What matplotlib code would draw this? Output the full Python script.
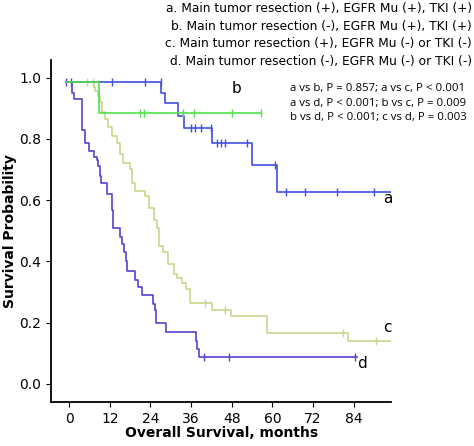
import matplotlib
matplotlib.use('Agg')
import matplotlib.pyplot as plt

# kaplan-meier curves: (time, survival) step points
a_t = [-1, 27.2, 28.4, 32, 34, 42.3, 54, 61.3, 95]
a_s = [0.985, 0.95, 0.917, 0.874, 0.835, 0.787, 0.714, 0.625, 0.625]
a_cens_t = [0.5, 12.6, 22.5, 27, 36, 37, 39, 42, 43.5, 44.7, 46, 52.6, 60.7, 64, 69.5, 79, 90]

b_t = [-1, 8.9, 56.7]
b_s = [0.985, 0.886, 0.886]
b_cens_t = [21, 22, 33.7, 36.7, 48, 56.7]

c_t = [-1, 7.2, 7.7, 8.4, 9.0, 9.7, 10.7, 11.6, 12.6, 14.1, 15.1, 16, 18, 18.5, 19.5,
       22.5, 23.7, 24.9, 25.9, 26.6, 27.8, 29.3, 31, 31.9,
       33.4, 34.4, 35.7, 42.2, 47.8, 58.5, 82.2, 95]
c_s = [0.985, 0.97, 0.955, 0.94, 0.92, 0.888, 0.866, 0.84, 0.81, 0.785, 0.75, 0.72, 0.70,
       0.655, 0.63, 0.615, 0.573, 0.535, 0.51, 0.45, 0.43, 0.39,
       0.36, 0.345, 0.33, 0.31, 0.265, 0.241, 0.22, 0.167, 0.141, 0.141]
c_cens_t = [5.2, 7, 40, 45.9, 80.9, 90.5]

d_t = [-1, 0.8, 1.5, 3.7, 4.7, 6.0, 7.2, 8.3, 8.4, 9.2, 9.5, 11.2, 12.6, 12.8, 14.9, 15.6,
       16.3, 16.9, 17.1, 19.5, 20.3, 21.5, 24.8, 25.2, 25.7, 28.6, 37.3, 37.8, 38.3, 84.9]
d_s = [0.985, 0.95, 0.93, 0.83, 0.787, 0.76, 0.74, 0.73, 0.71, 0.68, 0.655, 0.62, 0.568,
       0.51, 0.48, 0.455, 0.43, 0.40, 0.37, 0.34, 0.315, 0.29, 0.26, 0.24, 0.2, 0.17, 0.14,
       0.115, 0.088, 0.088]
d_cens_t = [-1, 39.8, 47.3, 84.3]

legend_lines = [
    'a. Main tumor resection (+), EGFR Mu (+), TKI (+)',
    'b. Main tumor resection (-), EGFR Mu (+), TKI (+)',
    'c. Main tumor resection (+), EGFR Mu (-) or TKI (-)',
    'd. Main tumor resection (-), EGFR Mu (-) or TKI (-)',
]
p_lines = [
    'a vs b, P = 0.857; a vs c, P < 0.001',
    'a vs d, P < 0.001; b vs c, P = 0.009',
    'b vs d, P < 0.001; c vs d, P = 0.003',
]


def surv_at(ts, ss, t):
    v = ss[0]
    for ti, si in zip(ts, ss):
        if ti <= t:
            v = si
    return v


fig = plt.figure(figsize=(4.74, 4.46), dpi=100)
ax = fig.add_axes([0.108, 0.099, 0.717, 0.766])

curves = [
    (d_t, d_s, d_cens_t, '#5b3fd0'),
    (c_t, c_s, c_cens_t, '#cbd68c'),
    (a_t, a_s, a_cens_t, '#3f4fe0'),
    (b_t, b_s, b_cens_t, '#4fe04a'),
]
for ts, ss, cens, col in curves:
    ax.step(ts, ss, where='post', color=col, lw=1.2)
    ax.plot(cens, [surv_at(ts, ss, t) for t in cens], '|', color=col, ms=6, mew=1)

ax.text(94, 0.59, 'a', fontsize=11, ha='center')
ax.text(49.5, 0.95, 'b', fontsize=11, ha='center')
ax.text(94, 0.17, 'c', fontsize=11, ha='center')
ax.text(86.5, 0.05, 'd', fontsize=11, ha='center')

for i, s in enumerate(p_lines):
    fig.text(0.612, 0.795 - i * 0.032, s, fontsize=8.2, family='Open Sans')
for i, s in enumerate(legend_lines):
    fig.text(0.995, 0.972 - i * 0.039, s, fontsize=8.8, ha='right')

ax.set_xlim(-5.3, 95)
ax.set_ylim(-0.059, 1.057)
ax.set_xticks(range(0, 85, 12))
ax.set_yticks([0.0, 0.2, 0.4, 0.6, 0.8, 1.0])
ax.set_yticklabels(['0.0', '0.2', '0.4', '0.6', '0.8', '1.0'])
ax.tick_params(labelsize=10)
for s in ['top', 'right']:
    ax.spines[s].set_visible(False)
for s in ['left', 'bottom']:
    ax.spines[s].set_linewidth(1.3)
ax.set_xlabel('Overall Survival, months', fontsize=10, fontweight='bold', labelpad=0)
ax.set_ylabel('Survival Probability', fontsize=10, fontweight='bold', labelpad=2)

fig.savefig('out.png', dpi=100)
